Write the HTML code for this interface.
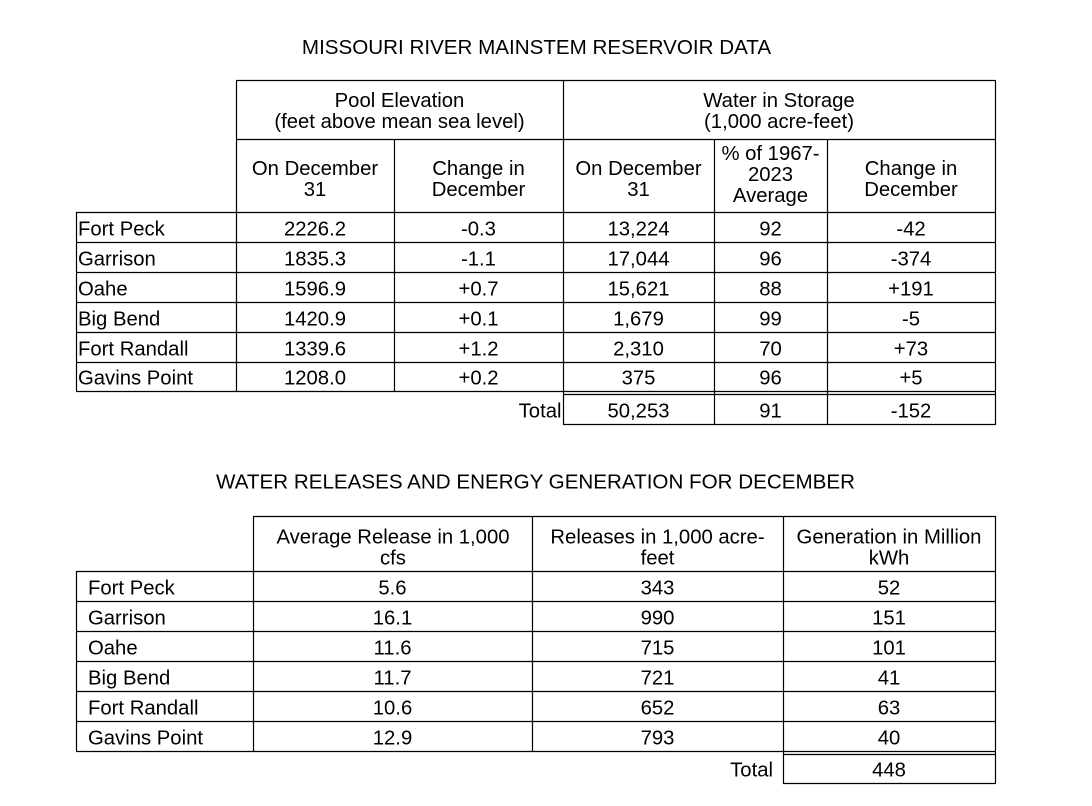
<!DOCTYPE html>
<html>
<head>
<meta charset="utf-8">
<style>
  html, body { margin:0; padding:0; background:#fff; }
  svg { display:block; }
  text { font-family: "Liberation Sans", Arial, sans-serif; font-size:20.3px; fill:#000; }
  .t { font-size:20.6px; }
  .c { text-anchor: middle; }
  .r { text-anchor: end; }
  line { stroke:#000; stroke-width:1.2; }
</style>
</head>
<body>
<svg width="1092" height="806" viewBox="0 0 1092 806" xmlns="http://www.w3.org/2000/svg">
  <rect x="0" y="0" width="1092" height="806" fill="#fff"/>

  <!-- ===== TABLE 1 ===== -->
  <text class="c t" x="536.5" y="54">MISSOURI RIVER MAINSTEM RESERVOIR DATA</text>

  <!-- horizontal lines -->
  <line x1="236" y1="80.5" x2="995.5" y2="80.5"/>
  <line x1="236" y1="139.5" x2="995.5" y2="139.5"/>
  <line x1="76" y1="212.5" x2="995.5" y2="212.5"/>
  <line x1="76" y1="242.5" x2="995.5" y2="242.5"/>
  <line x1="76" y1="272.5" x2="995.5" y2="272.5"/>
  <line x1="76" y1="302.5" x2="995.5" y2="302.5"/>
  <line x1="76" y1="332.5" x2="995.5" y2="332.5"/>
  <line x1="76" y1="362.5" x2="995.5" y2="362.5"/>
  <line x1="76" y1="391.5" x2="995.5" y2="391.5"/>
  <line x1="563" y1="394.5" x2="995.5" y2="394.5"/>
  <line x1="563" y1="424.5" x2="995.5" y2="424.5"/>

  <!-- vertical lines -->
  <line x1="76.5" y1="212" x2="76.5" y2="392"/>
  <line x1="236.5" y1="80" x2="236.5" y2="392"/>
  <line x1="394.5" y1="139" x2="394.5" y2="392"/>
  <line x1="563.5" y1="80" x2="563.5" y2="425"/>
  <line x1="714.5" y1="139" x2="714.5" y2="425"/>
  <line x1="827.5" y1="139" x2="827.5" y2="425"/>
  <line x1="995.5" y1="80" x2="995.5" y2="425"/>

  <!-- headers -->
  <text class="c" x="399.5" y="107">Pool Elevation</text>
  <text class="c" x="399.5" y="128">(feet above mean sea level)</text>
  <text class="c" x="779" y="107">Water in Storage</text>
  <text class="c" x="779" y="128">(1,000 acre-feet)</text>

  <text class="c" x="315" y="175">On December</text>
  <text class="c" x="315" y="196">31</text>
  <text class="c" x="478.5" y="175">Change in</text>
  <text class="c" x="478.5" y="196">December</text>
  <text class="c" x="638.5" y="175">On December</text>
  <text class="c" x="638.5" y="196">31</text>
  <text class="c" x="770.5" y="160">% of 1967-</text>
  <text class="c" x="770.5" y="181">2023</text>
  <text class="c" x="770.5" y="202">Average</text>
  <text class="c" x="911" y="175">Change in</text>
  <text class="c" x="911" y="196">December</text>

  <!-- data rows -->
  <text x="78" y="235.5">Fort Peck</text>
  <text class="c" x="315" y="235.5">2226.2</text>
  <text class="c" x="478.5" y="235.5">-0.3</text>
  <text class="c" x="638.5" y="235.5">13,224</text>
  <text class="c" x="770.5" y="235.5">92</text>
  <text class="c" x="911" y="235.5">-42</text>

  <text x="78" y="265.5">Garrison</text>
  <text class="c" x="315" y="265.5">1835.3</text>
  <text class="c" x="478.5" y="265.5">-1.1</text>
  <text class="c" x="638.5" y="265.5">17,044</text>
  <text class="c" x="770.5" y="265.5">96</text>
  <text class="c" x="911" y="265.5">-374</text>

  <text x="78" y="295.5">Oahe</text>
  <text class="c" x="315" y="295.5">1596.9</text>
  <text class="c" x="478.5" y="295.5">+0.7</text>
  <text class="c" x="638.5" y="295.5">15,621</text>
  <text class="c" x="770.5" y="295.5">88</text>
  <text class="c" x="911" y="295.5">+191</text>

  <text x="78" y="325.5">Big Bend</text>
  <text class="c" x="315" y="325.5">1420.9</text>
  <text class="c" x="478.5" y="325.5">+0.1</text>
  <text class="c" x="638.5" y="325.5">1,679</text>
  <text class="c" x="770.5" y="325.5">99</text>
  <text class="c" x="911" y="325.5">-5</text>

  <text x="78" y="355.5">Fort Randall</text>
  <text class="c" x="315" y="355.5">1339.6</text>
  <text class="c" x="478.5" y="355.5">+1.2</text>
  <text class="c" x="638.5" y="355.5">2,310</text>
  <text class="c" x="770.5" y="355.5">70</text>
  <text class="c" x="911" y="355.5">+73</text>

  <text x="78" y="384.5">Gavins Point</text>
  <text class="c" x="315" y="384.5">1208.0</text>
  <text class="c" x="478.5" y="384.5">+0.2</text>
  <text class="c" x="638.5" y="384.5">375</text>
  <text class="c" x="770.5" y="384.5">96</text>
  <text class="c" x="911" y="384.5">+5</text>

  <text class="r" x="561.5" y="417.5">Total</text>
  <text class="c" x="638.5" y="417.5">50,253</text>
  <text class="c" x="770.5" y="417.5">91</text>
  <text class="c" x="911" y="417.5">-152</text>

  <!-- ===== TABLE 2 ===== -->
  <text class="c t" x="535.5" y="488.5">WATER RELEASES AND ENERGY GENERATION FOR DECEMBER</text>

  <line x1="253" y1="516.5" x2="995.5" y2="516.5"/>
  <line x1="76" y1="571.5" x2="995.5" y2="571.5"/>
  <line x1="76" y1="601.5" x2="995.5" y2="601.5"/>
  <line x1="76" y1="631.5" x2="995.5" y2="631.5"/>
  <line x1="76" y1="661.5" x2="995.5" y2="661.5"/>
  <line x1="76" y1="691.5" x2="995.5" y2="691.5"/>
  <line x1="76" y1="721.5" x2="995.5" y2="721.5"/>
  <line x1="76" y1="751.5" x2="995.5" y2="751.5"/>
  <line x1="783" y1="754.5" x2="995.5" y2="754.5"/>
  <line x1="783" y1="783.5" x2="995.5" y2="783.5"/>

  <line x1="76.5" y1="571" x2="76.5" y2="752"/>
  <line x1="253.5" y1="516" x2="253.5" y2="752"/>
  <line x1="532.5" y1="516" x2="532.5" y2="752"/>
  <line x1="783.5" y1="516" x2="783.5" y2="784"/>
  <line x1="995.5" y1="516" x2="995.5" y2="784"/>

  <text class="c" x="393" y="543.5">Average Release in 1,000</text>
  <text class="c" x="393" y="564.5">cfs</text>
  <text class="c" x="657.5" y="543.5">Releases in 1,000 acre-</text>
  <text class="c" x="657.5" y="564.5">feet</text>
  <text class="c" x="889" y="543.5">Generation in Million</text>
  <text class="c" x="889" y="564.5">kWh</text>

  <text x="88" y="594.5">Fort Peck</text>
  <text class="c" x="392.5" y="594.5">5.6</text>
  <text class="c" x="657.5" y="594.5">343</text>
  <text class="c" x="889" y="594.5">52</text>

  <text x="88" y="624.5">Garrison</text>
  <text class="c" x="392.5" y="624.5">16.1</text>
  <text class="c" x="657.5" y="624.5">990</text>
  <text class="c" x="889" y="624.5">151</text>

  <text x="88" y="654.5">Oahe</text>
  <text class="c" x="392.5" y="654.5">11.6</text>
  <text class="c" x="657.5" y="654.5">715</text>
  <text class="c" x="889" y="654.5">101</text>

  <text x="88" y="684.5">Big Bend</text>
  <text class="c" x="392.5" y="684.5">11.7</text>
  <text class="c" x="657.5" y="684.5">721</text>
  <text class="c" x="889" y="684.5">41</text>

  <text x="88" y="714.5">Fort Randall</text>
  <text class="c" x="392.5" y="714.5">10.6</text>
  <text class="c" x="657.5" y="714.5">652</text>
  <text class="c" x="889" y="714.5">63</text>

  <text x="88" y="744.5">Gavins Point</text>
  <text class="c" x="392.5" y="744.5">12.9</text>
  <text class="c" x="657.5" y="744.5">793</text>
  <text class="c" x="889" y="744.5">40</text>

  <text class="r" x="773" y="776.5">Total</text>
  <text class="c" x="889" y="776.5">448</text>
</svg>
</body>
</html>
